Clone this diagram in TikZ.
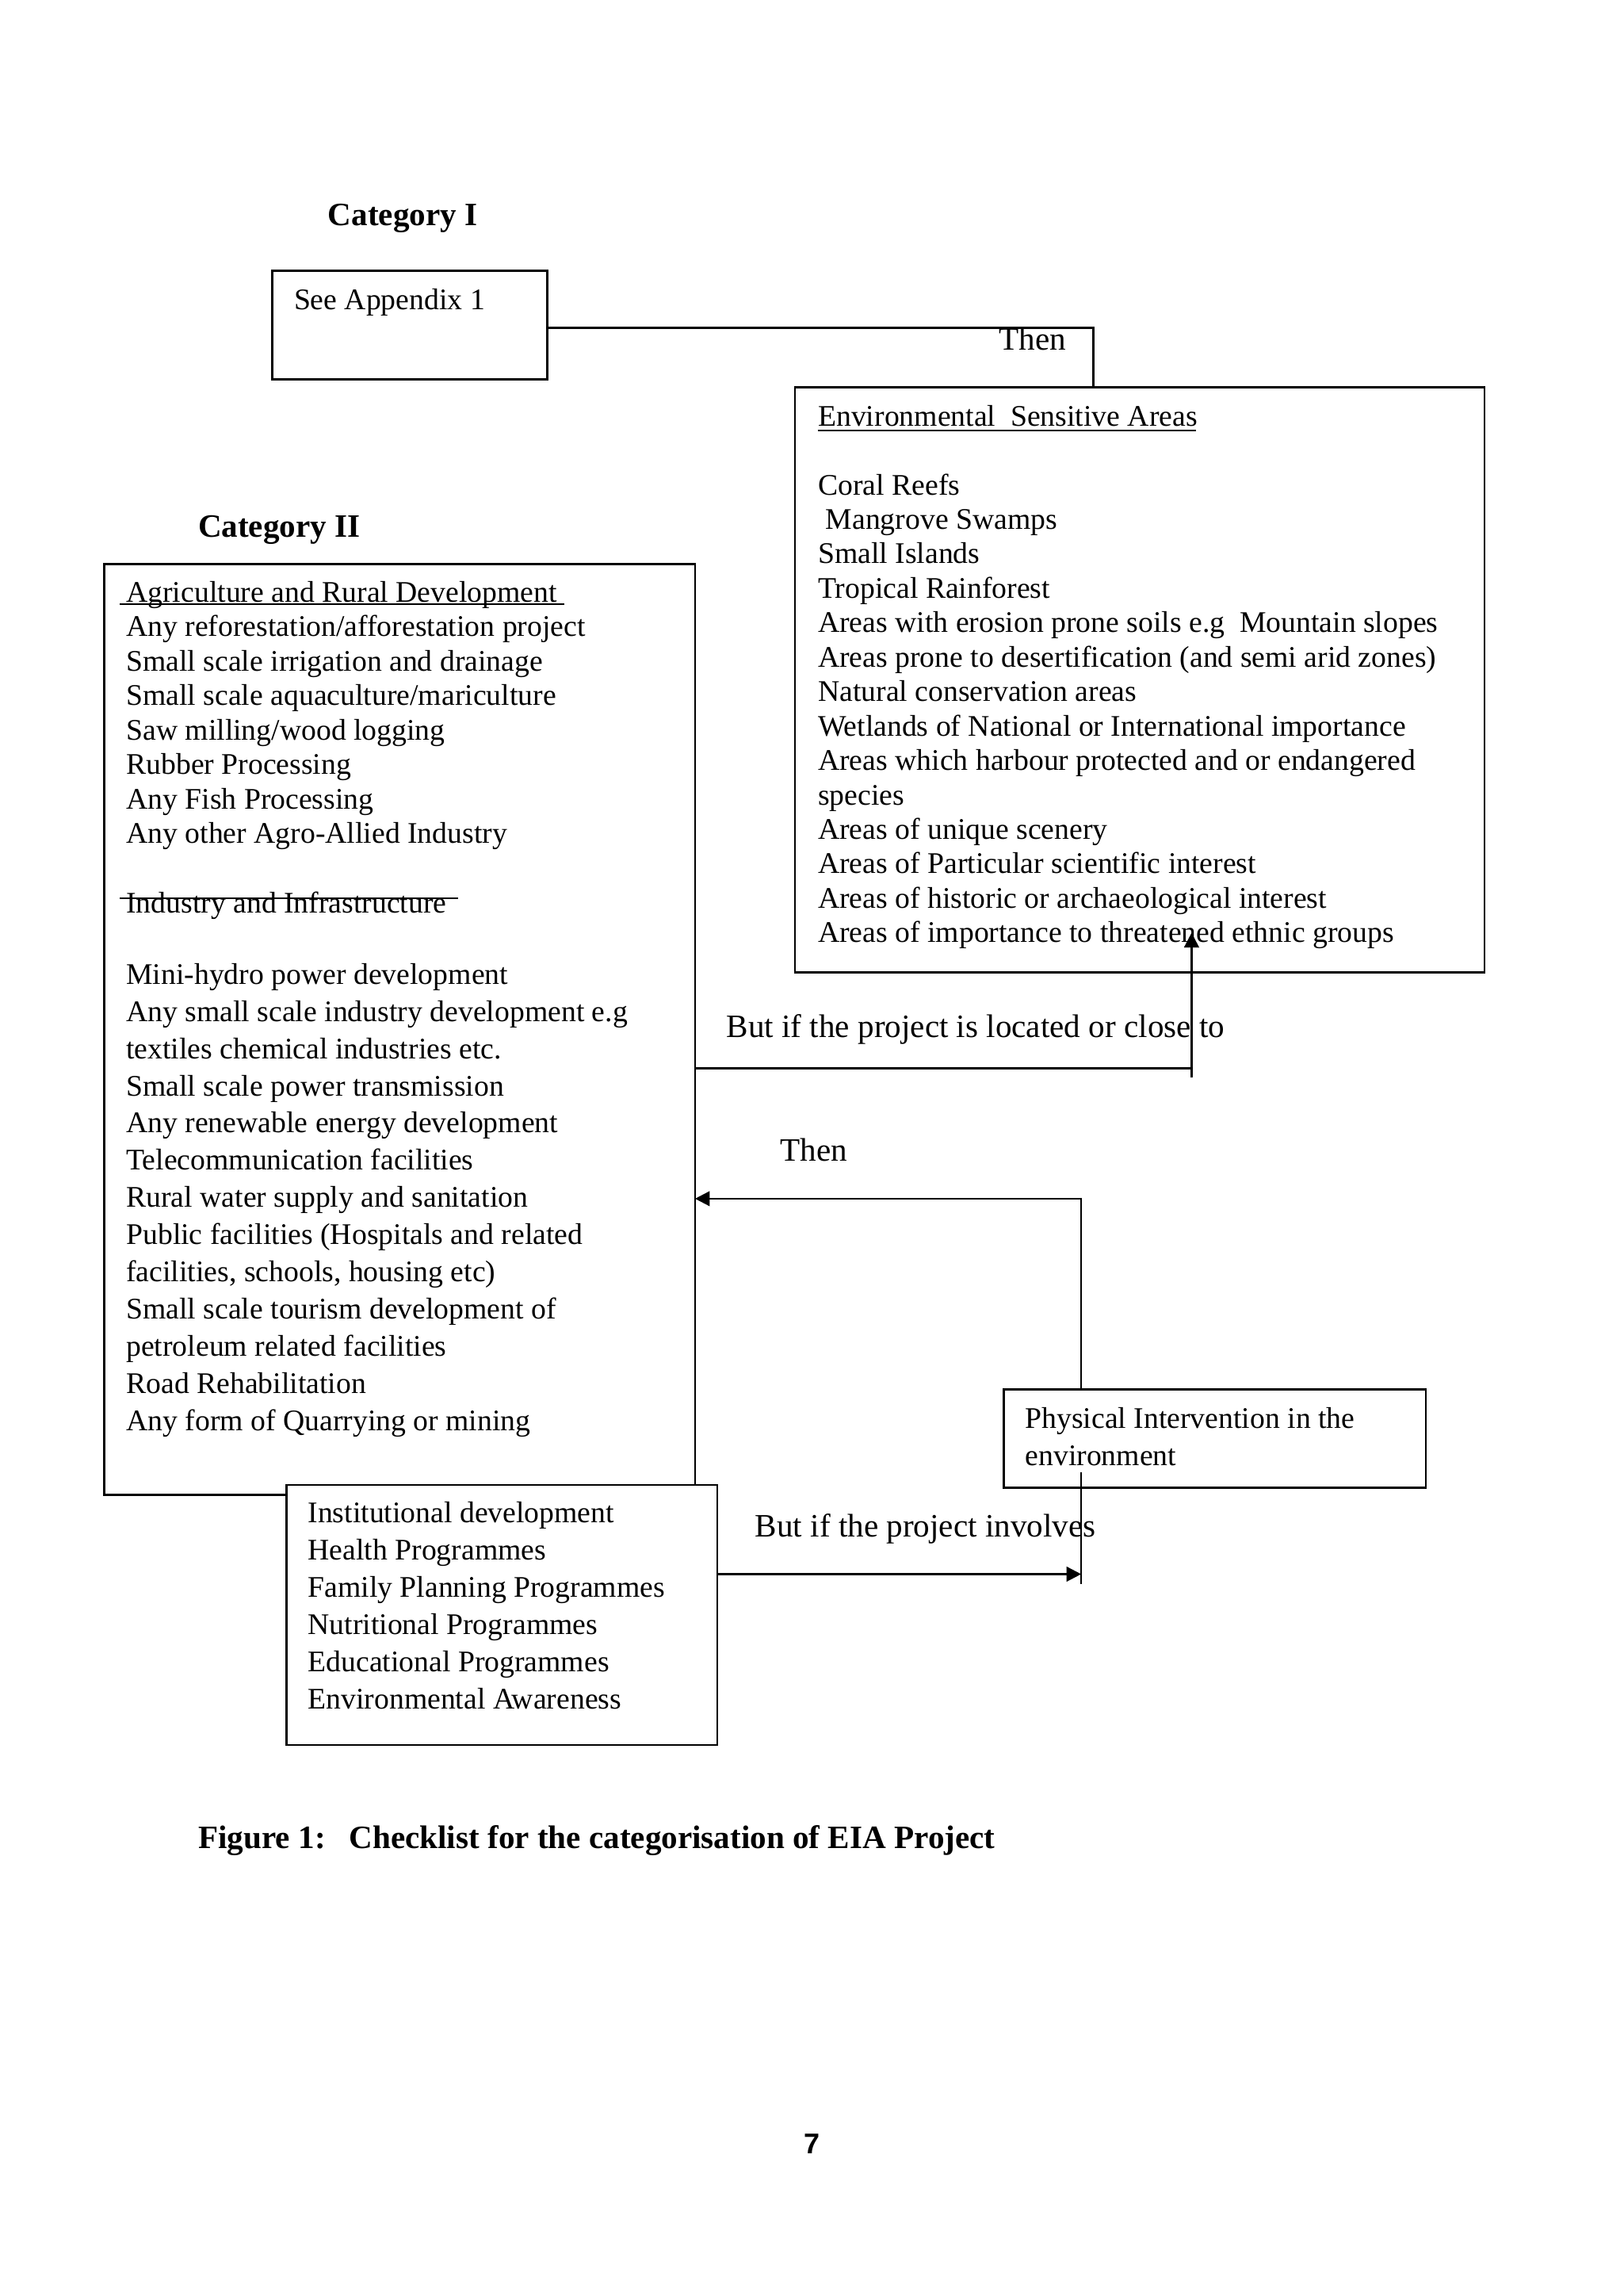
\documentclass[tikz,border=0pt]{standalone}
\usepackage{fontspec}
\setmainfont{Liberation Serif}
\newfontfamily\pgnumfont{Liberation Sans}
\usetikzlibrary{arrows.meta,fit}
\begin{document}
\begin{tikzpicture}[x=0.018936cm, y=-0.018936cm,
  box/.style={draw, line width=0.75pt, inner sep=0pt, outer sep=0pt, fill=white},
  tA/.style={anchor=base west, inner sep=0pt, font=\fontsize{11}{13}\selectfont},
  tB/.style={anchor=base west, inner sep=0pt, font=\fontsize{12}{14}\selectfont},
  hd/.style={anchor=base west, inner sep=0pt, font=\fontsize{12}{14}\selectfont\bfseries},
  conn/.style={line width=0.75pt},
  arr/.style={conn, -{Triangle[length=1.9mm,width=1.9mm]}},
  rulel/.style={line width=0.55pt}]
\useasboundingbox (0,0) rectangle (1109,1568);

% ---------- boxes ----------
\coordinate (appA) at (186,185);   \coordinate (appB) at (374,259);
\node[box, fit=(appA)(appB)] (app) {};
\coordinate (esaA) at (543,264.5); \coordinate (esaB) at (1014,664);
\node[box, fit=(esaA)(esaB)] (esa) {};
\coordinate (catA) at (71.3,385.3); \coordinate (catB) at (474.8,1021);
\node[box, fit=(catA)(catB)] (cat) {};
\coordinate (instA) at (195.6,1014); \coordinate (instB) at (490,1191.7);
\node[box, fit=(instA)(instB)] (inst) {};
\coordinate (phyA) at (685.6,949); \coordinate (phyB) at (974,1016);
\node[box, fit=(phyA)(phyB)] (phys) {};

% ---------- headings ----------
\node[hd] (h1) at (223.7,154.3) {Category I};
\node[hd] (h2) at (135,367) {Category II};
\node[hd] (cap) at (135.2,1262.4) {Figure 1:\hspace{8.7pt}Checklist for the categorisation of EIA Project};
\node[anchor=base west, inner sep=0pt, font=\pgnumfont\fontsize{10.5}{12}\selectfont\bfseries] (pg) at (549,1471) {7};

% ---------- box texts ----------
\node[tA] (apptxt) at (200.5,211.5) {See Appendix 1};

\node[tA] (esatitle) at (558.5,290.9) {Environmental\ \ Sensitive Areas};
\draw[rulel] (558.5,293.8) -- (817,293.8);
\foreach \t [count=\i from 0] in {Coral Reefs,
  \hspace{2.8pt}Mangrove Swamps,
  Small Islands,
  Tropical Rainforest,
  Areas with erosion prone soils e.g\ \ Mountain slopes,
  Areas prone to desertification (and semi arid zones),
  Natural conservation areas,
  Wetlands of National or International importance,
  Areas which harbour protected and or endangered,
  species,
  Areas of unique scenery,
  Areas of Particular scientific interest,
  Areas of historic or archaeological interest,
  Areas of importance to threatened ethnic groups}
  \node[tA] (esa-\i) at (558.5,{337.9+23.52*\i}) {\t};

\foreach \t [count=\i from 0] in {Agriculture and Rural Development,
  Any reforestation/afforestation project,
  Small scale irrigation and drainage,
  Small scale aquaculture/mariculture,
  Saw milling/wood logging,
  Rubber Processing,
  Any Fish Processing,
  Any other Agro-Allied Industry}
  \node[tA] (agr-\i) at (85.9,{411+23.57*\i}) {\t};
\draw[rulel] (82,412.5) -- (385.5,412.5);

\node[tA] (indtitle) at (85.9,623.3) {Industry and Infrastructure};
\draw[rulel] (82,613.6) -- (313,613.6);

\foreach \t [count=\i from 0] in {Mini-hydro power development,
  Any small scale industry development e.g,
  textiles chemical industries etc.,
  Small scale power transmission,
  Any renewable energy development,
  Telecommunication facilities,
  Rural water supply and sanitation,
  Public facilities (Hospitals and related,
  {facilities, schools, housing etc)},
  Small scale tourism development of,
  petroleum related facilities,
  Road Rehabilitation,
  Any form of Quarrying or mining}
  \node[tA] (ind-\i) at (85.9,{672+25.42*\i}) {\t};

\foreach \t [count=\i from 0] in {Institutional development,
  Health Programmes,
  Family Planning Programmes,
  Nutritional Programmes,
  Educational Programmes,
  Environmental Awareness}
  \node[tA] (inst-\i) at (210,{1040+25.4*\i}) {\t};

\node[tA] (phy-0) at (700,975.5) {Physical Intervention in the};
\node[tA] (phy-1) at (700,1000.6) {environment};

% ---------- connector labels ----------
\node[tB] (then1) at (682.2,239.1) {Then};
\node[tB] (close) at (496,708.3) {But if the project is located or close to};
\node[tB] (then2) at (532.6,793) {Then};
\node[tB] (involves) at (515.6,1049.5) {But if the project involves};

% ---------- connectors ----------
\coordinate (c1) at (747,224);
\draw[conn] (app.east |- c1) -- (c1) -- (c1 |- esa.north);

\coordinate (c2) at (814,729.5);
\coordinate (c2b) at (814,736);
\coordinate (c2t) at (814,637);
\draw[conn] (cat.east |- c2) -- (c2);
\draw[arr] (c2b) -- (c2t);

\coordinate (c3) at (738.6,818.6);
\draw[arr] (c3 |- phys.north) -- (c3) -- (c3 -| cat.east);

\coordinate (c4) at (738.6,1075);
\coordinate (c5) at (738.6,1005.4);
\coordinate (c6) at (738.6,1082);
\draw[arr] (inst.east |- c4) -- (c4);
\draw[conn] (c5) -- (c6);
\end{tikzpicture}
\end{document}
